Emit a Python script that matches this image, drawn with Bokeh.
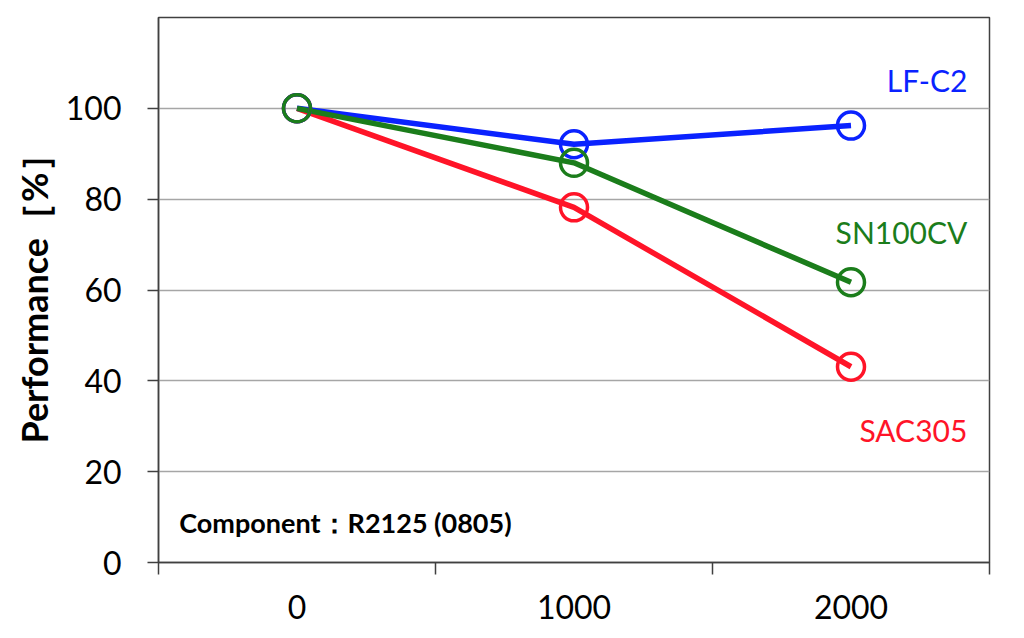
from bokeh.plotting import figure
from bokeh.models import Range1d, FixedTicker, Label, ColumnDataSource
from bokeh.embed import file_html
from bokeh.resources import INLINE

# ---- data ----
cycles = ["0", "1000", "2000"]
lf_c2 = [100, 92.1, 96.2]
sn100cv = [100, 88.0, 61.7]
sac305 = [100, 78.2, 43.1]
series_names = ["LF-C2", "SN100CV", "SAC305"]
y_ticks = [0, 20, 40, 60, 80, 100]

FONT = "Lato"
BLUE = "#0a22ff"
GREEN = "#1b7d1b"
RED = "#ff1428"
AXIS = "#404040"

xi = list(range(len(cycles)))

p = figure(width=1010, height=630, output_backend="svg", toolbar_location=None,
           x_range=Range1d(-0.5, len(cycles) - 0.5), y_range=Range1d(0, 120),
           min_border_left=158, min_border_right=21, min_border_top=17, min_border_bottom=68)

p.outline_line_color = AXIS
p.outline_line_width = 1.5
p.background_fill_color = "white"
p.border_fill_color = "white"

# x axis: labels at categories, ticks on boundaries
xticker = FixedTicker(ticks=xi, minor_ticks=[i - 0.5 for i in range(len(cycles) + 1)])
p.xaxis.ticker = xticker
p.xaxis.major_label_overrides = {i: c for i, c in enumerate(cycles)}
p.xaxis.major_tick_out = 0
p.xaxis.major_tick_in = 0
p.xaxis.minor_tick_out = 12
p.xaxis.minor_tick_in = 0
p.xaxis.minor_tick_line_color = AXIS
p.xaxis.minor_tick_line_width = 1.5
p.xaxis.axis_line_color = AXIS
p.xaxis.axis_line_width = 1.5
p.xaxis.major_label_text_font = FONT
p.xaxis.major_label_text_font_size = "32px"
p.xaxis.major_label_text_color = "black"
p.xaxis.major_label_standoff = 20
p.xgrid.visible = False

# y axis
p.yaxis.ticker = FixedTicker(ticks=y_ticks, minor_ticks=[])
p.yaxis.major_tick_out = 11
p.yaxis.major_tick_in = 0
p.yaxis.major_tick_line_color = AXIS
p.yaxis.major_tick_line_width = 1.5
p.yaxis.axis_line_color = AXIS
p.yaxis.axis_line_width = 1.5
p.yaxis.major_label_text_font = FONT
p.yaxis.major_label_text_font_size = "32px"
p.yaxis.major_label_text_color = "black"
p.yaxis.major_label_standoff = 26
p.yaxis.axis_label = "Performance［%］"
p.yaxis.axis_label_text_font = FONT
p.yaxis.axis_label_text_font_style = "bold"
p.yaxis.axis_label_text_font_size = "36px"
p.yaxis.axis_label_text_color = "black"
p.yaxis.axis_label_standoff = 7
p.ygrid.ticker = FixedTicker(ticks=y_ticks[1:])
p.ygrid.grid_line_color = "#a6a6a6"
p.ygrid.grid_line_width = 1.5

series = [(sac305, RED), (lf_c2, BLUE), (sn100cv, GREEN)]
for vals, col in series:
    src = ColumnDataSource(dict(x=xi, y=vals))
    p.line("x", "y", source=src, line_color=col, line_width=5.5)
for vals, col in series:
    src = ColumnDataSource(dict(x=xi, y=vals))
    p.scatter("x", "y", source=src, marker="circle", size=27, fill_color=None,
              line_color=col, line_width=3.5)

# series labels
label_specs = [("LF-C2", BLUE, 106.2), ("SN100CV", GREEN, 72.7), ("SAC305", RED, 29.1)]
for name, col, yv in label_specs:
    p.add_layout(Label(x=2.42, y=yv, text=name, text_color=col, text_font=FONT,
                       text_font_size="30px", text_align="right", text_baseline="middle"))

p.add_layout(Label(x=-0.425, y=8.8, text="Component：R2125 (0805)", text_color="black",
                   text_font=FONT, text_font_style="bold", text_font_size="27px",
                   text_align="left", text_baseline="middle"))

open("out.html", "w").write(file_html(p, INLINE))
